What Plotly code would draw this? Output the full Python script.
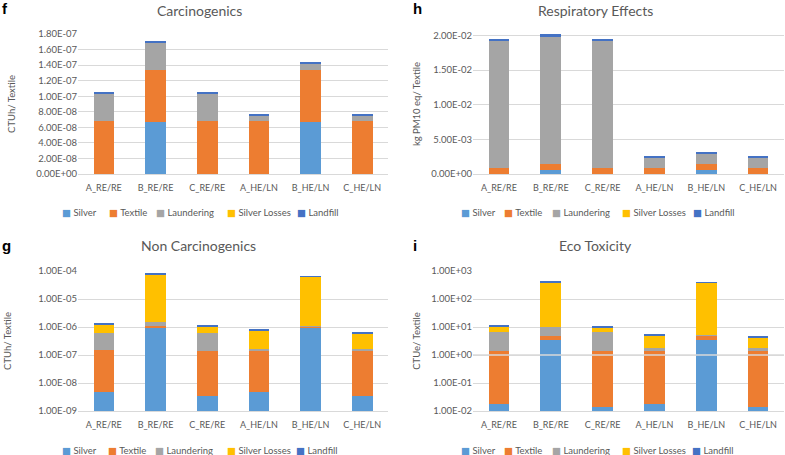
import plotly.graph_objects as go

# ---------------- data ----------------
categories = ["A_RE/RE", "B_RE/RE", "C_RE/RE", "A_HE/LN", "B_HE/LN", "C_HE/LN"]
series_names = ["Silver", "Textile", "Laundering", "Silver Losses", "Landfill"]

# f  Carcinogenics (CTUh / Textile)
carc_silver = [4e-10, 6.65e-8, 3e-10, 4e-10, 6.65e-8, 3e-10]
carc_textile = [6.75e-8, 6.75e-8, 6.75e-8, 6.75e-8, 6.75e-8, 6.75e-8]
carc_laundering = [3.45e-8, 3.5e-8, 3.45e-8, 6.5e-9, 7.7e-9, 6.5e-9]
carc_silver_losses = [0, 0, 0, 0, 0, 0]
carc_landfill = [2.6e-9, 2.2e-9, 2.6e-9, 2.6e-9, 2.2e-9, 2.6e-9]

# h  Respiratory Effects (kg PM10 eq / Textile)
resp_silver = [2e-6, 5.5e-4, 2e-6, 2e-6, 5.5e-4, 2e-6]
resp_textile = [9.0e-4, 9.0e-4, 9.0e-4, 9.0e-4, 9.0e-4, 9.0e-4]
resp_laundering = [1.834e-2, 1.845e-2, 1.834e-2, 1.34e-3, 1.55e-3, 1.34e-3]
resp_silver_losses = [0, 0, 0, 0, 0, 0]
resp_landfill = [2.4e-4, 2.4e-4, 2.4e-4, 3.3e-4, 2.4e-4, 3.3e-4]

# g  Non Carcinogenics (CTUh / Textile)
ncarc_silver = [4.9e-9, 9.3e-7, 3.5e-9, 4.9e-9, 9.3e-7, 3.5e-9]
ncarc_textile = [1.4e-7, 1.4e-7, 1.4e-7, 1.4e-7, 1.4e-7, 1.4e-7]
ncarc_laundering = [4.75e-7, 4.75e-7, 4.75e-7, 2.5e-8, 2.5e-8, 2.5e-8]
ncarc_silver_losses = [6.4e-7, 7.4e-5, 4.3e-7, 5.8e-7, 6.5e-5, 4.0e-7]
ncarc_landfill = [1.2e-7, 7e-6, 1.2e-7, 1.1e-7, 1e-7, 9e-8]

# i  Eco Toxicity (CTUe / Textile)
eco_silver = [0.018, 3.4, 0.0144, 0.018, 3.4, 0.0144]
eco_textile = [1.43, 1.43, 1.43, 1.43, 1.43, 1.43]
eco_laundering = [5.2, 5.2, 5.4, 0.35, 0.35, 0.35]
eco_silver_losses = [4.1, 390, 3.0, 3.2, 395, 2.1]
eco_landfill = [1.3, 45, 0.85, 0.5, 0.6, 0.7]

# tick values / labels
carc_tickvals = [0, 2e-8, 4e-8, 6e-8, 8e-8, 1e-7, 1.2e-7, 1.4e-7, 1.6e-7, 1.8e-7]
carc_ticktext = ["0.00E+00", "2.00E-08", "4.00E-08", "6.00E-08", "8.00E-08",
                 "1.00E-07", "1.20E-07", "1.40E-07", "1.60E-07", "1.80E-07"]
resp_tickvals = [0, 5e-3, 1e-2, 1.5e-2, 2e-2]
resp_ticktext = ["0.00E+00", "5.00E-03", "1.00E-02", "1.50E-02", "2.00E-02"]
ncarc_tickvals = [1e-9, 1e-8, 1e-7, 1e-6, 1e-5, 1e-4]
ncarc_ticktext = ["1.00E-09", "1.00E-08", "1.00E-07", "1.00E-06", "1.00E-05", "1.00E-04"]
eco_tickvals = [1e-2, 1e-1, 1e0, 1e1, 1e2, 1e3]
eco_ticktext = ["1.00E-02", "1.00E-01", "1.00E+00", "1.00E+01", "1.00E+02", "1.00E+03"]

# ---------------- style ----------------
colors = ["#5B9BD5", "#ED7D31", "#A5A5A5", "#FFC000", "#4472C4"]
FONT = "Lato, DejaVu Sans"
GREY = "#595959"
GRID = "#D9D9D9"
W, H = 785, 455

panels = [
    ("x", "y",
     [carc_silver, carc_textile, carc_laundering, carc_silver_losses, carc_landfill]),
    ("x2", "y2",
     [resp_silver, resp_textile, resp_laundering, resp_silver_losses, resp_landfill]),
    ("x3", "y3",
     [ncarc_silver, ncarc_textile, ncarc_laundering, ncarc_silver_losses, ncarc_landfill]),
    ("x4", "y4",
     [eco_silver, eco_textile, eco_laundering, eco_silver_losses, eco_landfill]),
]

fig = go.Figure()
for xa, ya, series in panels:
    for name, vals, col in zip(series_names, series, colors):
        fig.add_trace(go.Bar(
            x=categories, y=vals, name=name, xaxis=xa, yaxis=ya, showlegend=False,
            marker=dict(color=col, line=dict(width=0)),
        ))


def px_x(p):
    return p / W


def px_y(p):
    return 1 - p / H


left_dom = [px_x(78), px_x(388)]
right_dom = [px_x(473), px_x(784)]
top_dom = [px_y(174), px_y(34)]
bot_dom = [px_y(411), px_y(271)]

tickfont = dict(family=FONT, size=9.5, color=GREY)
xcommon = dict(type="category", tickfont=dict(family=FONT, size=9, color=GREY),
               showgrid=False, showline=True, linecolor=GRID, linewidth=1,
               ticks="outside", ticklen=5, tickcolor="rgba(0,0,0,0)",
               layer="above traces", fixedrange=True, automargin=False)
ycommon = dict(tickfont=tickfont, showgrid=True, gridcolor=GRID, gridwidth=1,
               showline=False, zeroline=False, ticks="", fixedrange=True,
               automargin=True)


def ytitle(text, standoff):
    return dict(text=text, font=dict(family=FONT, size=9.5, color=GREY), standoff=standoff)


fig.update_layout(
    width=W, height=H, autosize=False,
    margin=dict(l=0, r=0, t=0, b=0, pad=0, autoexpand=False),
    paper_bgcolor="white", plot_bgcolor="white",
    barmode="stack", bargap=0.6, showlegend=False,
    font=dict(family=FONT, color=GREY),
    xaxis=dict(domain=left_dom, anchor="y", **xcommon),
    yaxis=dict(domain=top_dom, anchor="x", range=[0, 1.8e-7],
               tickvals=carc_tickvals, ticktext=carc_ticktext,
               title=ytitle("CTUh/ Textile", 18), **ycommon),
    xaxis2=dict(domain=right_dom, anchor="y2", **xcommon),
    yaxis2=dict(domain=top_dom, anchor="x2", range=[0, 0.0202],
                tickvals=resp_tickvals, ticktext=resp_ticktext,
                title=ytitle("kg PM10 eq/ Textile", 8), **ycommon),
    xaxis3=dict(domain=left_dom, anchor="y3", **xcommon),
    yaxis3=dict(domain=bot_dom, anchor="x3", type="log", range=[-9, -4],
                tickvals=ncarc_tickvals, ticktext=ncarc_ticktext,
                title=ytitle("CTUh/ Textile", 24), **ycommon),
    xaxis4=dict(domain=right_dom, anchor="y4", **xcommon),
    yaxis4=dict(domain=bot_dom, anchor="x4", type="log", range=[-2, 3],
                tickvals=eco_tickvals, ticktext=eco_ticktext,
                title=ytitle("CTUe/ Textile", 8), **ycommon),
)

# legends (one row per panel: coloured square + series name)
legend_rows = [
    ([63, 110, 157, 228, 298], 212.5),
    ([462, 505, 553, 623, 694], 212.5),
    ([63, 109, 156, 228, 297], 450),
    ([462, 505, 553, 623, 693], 450),
]
for xs, yy in legend_rows:
    for name, col, lx in zip(series_names, colors, xs):
        fig.add_annotation(
            text='<span style="color:%s">■</span> %s' % (col, name),
            x=px_x(lx - 3), y=px_y(yy), xref="paper", yref="paper",
            xanchor="left", yanchor="middle", showarrow=False,
            font=dict(family=FONT, size=9.5, color=GREY))

# titles and panel letters
titles = [("Carcinogenics", 199, 10), ("Respiratory Effects", 595, 10),
          ("Non Carcinogenics", 198, 245), ("Eco Toxicity", 595, 245)]
for text, cx, cy in titles:
    fig.add_annotation(text=text, x=px_x(cx), y=px_y(cy), xref="paper", yref="paper",
                       xanchor="center", yanchor="middle", showarrow=False,
                       font=dict(family=FONT, size=14, color=GREY))

letters = [("f", 0, 8), ("h", 411, 8), ("g", 0, 246), ("i", 411, 245)]
for text, lx, ly in letters:
    fig.add_annotation(text="<b>" + text + "</b>", x=px_x(lx), y=px_y(ly),
                       xref="paper", yref="paper", xanchor="left", yanchor="middle",
                       showarrow=False,
                       font=dict(family="Liberation Sans", size=15, color="black"))

# Excel-style horizontal axis crossing at 1.0 on the log eco-toxicity axis
fig.add_shape(type="line", xref="x4 domain", yref="y4", x0=0, x1=1, y0=1, y1=1,
              line=dict(color=GRID, width=1.5), layer="above")

fig.write_html("out.html",
               config={"displayModeBar": False},
               post_script="document.body.style.margin='0';"
                           "document.body.style.overflow='hidden';")
